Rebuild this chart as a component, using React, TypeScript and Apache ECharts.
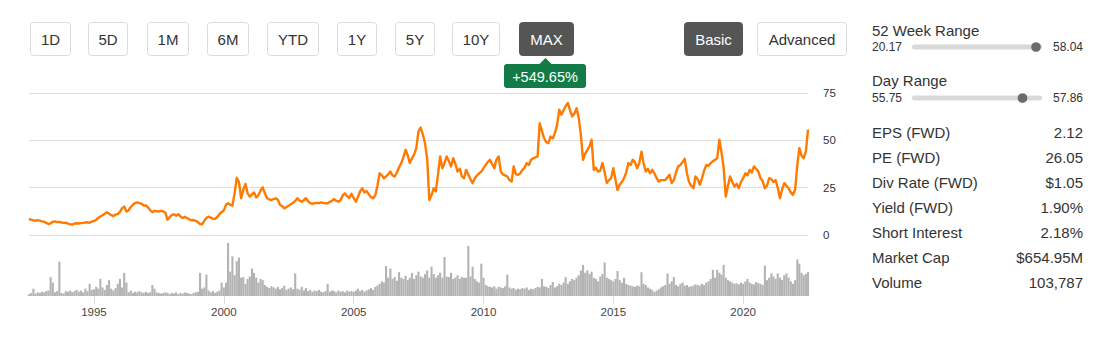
import React, { useEffect, useRef } from "react";
import * as echarts from "echarts";

// ---------- data ----------
const START_YEAR = 1992;
const START_MONTH = 7; // first monthly observation: July 1992

const prices1992to1999 = [
  8.6, 8.0, 7.8, 7.5, 7.9, 7.6,
  7.2, 7.0, 6.4, 5.8, 6.2, 7.0, 7.2, 6.8, 6.9, 6.6, 6.4, 6.5,
  6.0, 5.7, 5.5, 6.0, 6.2, 6.1, 6.3, 6.4, 6.6, 6.7, 6.5, 7.0,
  7.4, 8.0, 9.0, 9.8, 10.4, 11.2, 12.0, 11.2, 10.5, 10.0, 10.8, 11.0,
  12.2, 14.2, 15.0, 12.4, 13.0, 14.8, 16.0, 16.9, 17.2, 16.8, 16.5, 15.6,
  15.6, 14.5, 13.2, 12.0, 12.8, 12.6, 12.4, 12.8, 12.5, 11.8, 8.0, 9.5,
  10.6, 10.9, 10.2, 11.0, 9.8, 9.0, 9.6, 9.0, 8.3, 7.8, 7.9, 7.5,
  6.8, 5.8, 5.6, 7.5, 9.0, 9.7, 9.2, 8.6, 8.5, 9.5, 11.0, 12.2,
];
const prices2000to2009 = [
  13.0, 16.0, 16.8, 15.9, 15.5, 22.0, 30.2, 28.0, 19.4, 24.0, 27.0, 22.0,
  20.3, 21.5, 22.5, 19.8, 21.0, 23.5, 25.2, 22.0, 19.4, 18.8, 18.5, 19.0,
  19.4, 18.5, 16.0, 15.2, 14.1, 14.8, 15.5, 16.2, 17.0, 18.0, 19.4, 18.2,
  17.6, 18.5, 19.4, 17.8, 16.8, 16.5, 16.8, 17.0, 16.8, 17.2, 16.9, 16.8,
  16.8, 17.5, 18.0, 19.0, 18.0, 17.6, 18.5, 21.0, 22.0, 20.5, 19.5, 21.8,
  19.5, 17.6, 20.0, 23.0, 24.7, 22.5, 23.2, 21.5, 20.0, 19.4, 21.0, 26.0,
  32.6, 31.5, 30.0, 30.9, 32.0, 33.5, 31.5, 30.9, 33.0, 35.8, 38.0, 41.0,
  45.0, 42.0, 38.0, 40.5, 42.4, 46.0, 54.7, 56.8, 53.0, 48.5, 40.0, 18.5,
  21.0, 24.7, 23.0, 32.0, 41.5, 35.3, 38.0, 41.5, 39.0, 36.2, 40.6, 37.5,
  33.5, 35.0, 31.0, 30.0, 34.4, 32.0, 29.5, 27.4, 30.0, 31.5, 32.6, 33.5,
];
const prices2010to2016 = [
  35.3, 37.0, 38.5, 39.7, 37.5, 35.3, 39.7, 41.5, 33.5, 32.0, 31.5, 30.9,
  29.0, 28.2, 36.2, 32.0, 31.8, 32.5, 34.4, 35.5, 38.0, 37.0, 39.7, 40.5,
  41.0, 41.5, 59.0, 55.0, 51.2, 49.0, 48.5, 52.0, 51.0, 53.8, 58.0, 66.2,
  63.5, 66.0, 68.0, 69.7, 66.0, 62.6, 64.0, 67.0, 62.0, 53.0, 39.7, 43.0,
  45.0, 47.0, 50.3, 34.4, 35.5, 33.5, 34.0, 38.0, 33.0, 27.4, 29.0, 30.0,
  35.3, 29.0, 23.8, 26.5, 28.0, 30.0, 33.0, 38.0, 37.0, 39.7, 38.5, 35.3,
  38.0, 44.0, 38.0, 33.5, 35.0, 32.6, 34.4, 32.6, 30.0, 28.2, 29.0, 29.0,
];
const prices2017to2022 = [
  29.0, 30.5, 31.8, 27.4, 29.0, 33.0, 36.2, 37.0, 38.5, 40.2, 32.6, 28.0,
  26.0, 24.7, 30.9, 29.5, 26.5, 30.0, 34.0, 37.0, 36.5, 38.0, 39.0, 39.7,
  40.5, 50.3, 44.0, 36.0, 20.3, 26.0, 30.9, 28.0, 25.6, 27.0, 24.7, 28.0,
  30.0, 32.6, 31.5, 34.4, 33.0, 36.2, 35.0, 33.5, 30.0, 28.5, 24.7, 26.0,
  30.0, 29.5, 28.0, 29.0, 25.0, 19.4, 24.0, 27.4, 26.0, 24.7, 22.5, 21.2,
  24.0, 37.0, 45.9, 42.0, 40.6, 44.0, 55.6,
];

const volumes1992to1999 = [
  3, 5, 12, 4, 6, 5,
  7, 6, 8, 9, 31, 22, 6, 8, 56, 5, 4, 8,
  7, 9, 6, 8, 10, 7, 9, 6, 12, 8, 20, 10,
  11, 15, 12, 28, 14, 10, 18, 26, 12, 9, 13, 20,
  28, 14, 38, 22, 6, 9, 5, 7, 6, 8, 6, 5,
  7, 5, 6, 18, 12, 6, 5, 4, 5, 6, 5, 3,
  5, 4, 6, 3, 5, 4, 6, 5, 4, 3, 5, 6,
  7, 38, 12, 14, 35, 9, 6, 8, 5, 7, 9, 22,
];
const volumes2000to2009 = [
  14, 22, 87, 40, 65, 34, 57, 63, 30, 31, 20, 28,
  32, 45, 38, 30, 22, 28, 26, 18, 15, 13, 16, 14,
  12, 15, 11, 13, 17, 10, 12, 14, 11, 37, 12, 10,
  15, 9, 13, 8, 10, 7, 9, 8, 10, 7, 6, 8,
  20, 7, 9, 8, 6, 9, 7, 8, 6, 9, 7, 8,
  7, 9, 12, 8, 10, 7, 9, 11, 13, 10, 15, 17,
  20, 24, 22, 49, 30, 45, 28, 31, 25, 39, 30, 28,
  33, 26, 30, 38, 28, 34, 40, 32, 30, 36, 42, 30,
  48, 36, 30, 34, 38, 30, 64, 32, 31, 38, 28, 30,
  34, 28, 31, 30, 30, 82, 32, 48, 28, 24, 22, 53,
];
const volumes2010to2016 = [
  30, 18, 16, 15, 14, 16, 12, 15, 14, 13, 16, 35,
  14, 12, 13, 10, 12, 11, 13, 12, 14, 10, 12, 11,
  13, 15, 14, 28, 16, 15, 13, 18, 23, 14, 16, 20,
  18, 22, 31, 20, 24, 28, 26, 30, 34, 42, 51, 38,
  42, 36, 40, 30, 28, 24, 32, 36, 55, 30, 28, 26,
  24, 28, 41, 26, 22, 30, 20, 18, 17, 16, 15, 17,
  16, 39, 20, 18, 14, 12, 10, 7, 9, 11, 14, 16,
];
const volumes2017to2022 = [
  18, 37, 20, 24, 31, 18, 16, 20, 22, 17, 18, 15,
  16, 17, 19, 18, 17, 20, 18, 22, 24, 28, 43, 30,
  43, 38, 35, 51, 30, 26, 24, 22, 20, 21, 19, 22,
  20, 24, 28, 22, 20, 19, 23, 21, 20, 18, 50, 26,
  30, 37, 32, 28, 37, 30, 26, 34, 37, 30, 24, 20,
  26, 60, 53, 38, 34, 36, 39,
];

const yearTicks = [1995, 2000, 2005, 2010, 2015, 2020];
const priceTicks = [0, 25, 50, 75];

const rangeButtons = ["1D", "5D", "1M", "6M", "YTD", "1Y", "5Y", "10Y", "MAX"];
const activeRange = "MAX";
const viewButtons = ["Basic", "Advanced"];
const activeView = "Basic";
const changeLabel = "+549.65%";

const week52Low = "20.17";
const week52High = "58.04";
const dayLow = "55.75";
const dayHigh = "57.86";

const statLabels = ["EPS (FWD)", "PE (FWD)", "Div Rate (FWD)", "Yield (FWD)", "Short Interest", "Market Cap", "Volume"];
const statValues = ["2.12", "26.05", "$1.05", "1.90%", "2.18%", "$654.95M", "103,787"];

// ---------- layout (not data) ----------
const rangeBtnX: [number, number][] = [
  [30, 70], [88, 127], [147, 188], [207, 248], [267, 318],
  [337, 376], [395, 434], [452, 499], [519, 573],
];
const viewBtnX: [number, number][] = [[684, 742], [757, 846]];
const FONT = '"Liberation Sans", Arial, Helvetica, sans-serif';

export default function App() {
  const ref = useRef<HTMLDivElement>(null);

  useEffect(() => {
    if (!ref.current) return;
    const chart = echarts.init(ref.current, undefined, { renderer: "svg" });

    const prices = [...prices1992to1999, ...prices2000to2009, ...prices2010to2016, ...prices2017to2022];
    const volumes = [...volumes1992to1999, ...volumes2000to2009, ...volumes2010to2016, ...volumes2017to2022];
    const dates = prices.map((_, i) => Date.UTC(START_YEAR, START_MONTH - 1 + i, 1));
    const priceData = prices.map((v, i) => [dates[i], v]);
    const volData = volumes.map((v, i) => [dates[i], v]);
    const xMin = dates[0];
    const xMax = dates[dates.length - 1];
    const yearTs = yearTicks.map((y) => Date.UTC(y, 0, 1));

    const graphic: any[] = [];
    const pushButton = (label: string, x0: number, x1: number, active: boolean) => {
      graphic.push({
        type: "rect",
        shape: { x: x0 + 0.5, y: 22.5, width: x1 - x0, height: 33, r: 3 },
        style: { fill: active ? "#555555" : "#ffffff", stroke: active ? "#555555" : "#dcdcdc", lineWidth: 1 },
      });
      graphic.push({
        type: "text",
        x: (x0 + x1) / 2 + 0.5,
        y: 39.5,
        style: {
          text: label,
          fill: active ? "#ffffff" : "#333333",
          fontSize: 15,
          fontFamily: FONT,
          align: "center",
          verticalAlign: "middle",
        },
      });
    };
    rangeButtons.forEach((b, i) => pushButton(b, rangeBtnX[i][0], rangeBtnX[i][1], b === activeRange));
    viewButtons.forEach((b, i) => pushButton(b, viewBtnX[i][0], viewBtnX[i][1], b === activeView));

    // change badge
    graphic.push({
      type: "polygon",
      shape: { points: [[539, 64.5], [545.5, 58], [552, 64.5]] },
      style: { fill: "#137b46" },
    });
    graphic.push({
      type: "rect",
      shape: { x: 504, y: 64, width: 82, height: 24, r: 3 },
      style: { fill: "#137b46" },
    });
    graphic.push({
      type: "text",
      x: 545,
      y: 76.5,
      style: { text: changeLabel, fill: "#ffffff", fontSize: 14.5, fontFamily: FONT, align: "center", verticalAlign: "middle" },
    });

    // right panel ranges
    const rangeBlock = (title: string, low: string, high: string, yTitle: number, yVal: number, dotX: number) => {
      graphic.push({
        type: "text", x: 872, y: yTitle,
        style: { text: title, fill: "#333333", fontSize: 15, fontFamily: FONT, align: "left", verticalAlign: "middle" },
      });
      graphic.push({
        type: "text", x: 872, y: yVal,
        style: { text: low, fill: "#333333", fontSize: 12, fontFamily: FONT, align: "left", verticalAlign: "middle" },
      });
      graphic.push({
        type: "text", x: 1083, y: yVal,
        style: { text: high, fill: "#333333", fontSize: 12, fontFamily: FONT, align: "right", verticalAlign: "middle" },
      });
      graphic.push({
        type: "rect", shape: { x: 912, y: yVal - 2.5, width: 130, height: 5, r: 2.5 },
        style: { fill: "#d9d9d9" },
      });
      graphic.push({
        type: "circle", shape: { cx: dotX, cy: yVal, r: 4.8 },
        style: { fill: "#6b6b6b" },
      });
    };
    rangeBlock("52 Week Range", week52Low, week52High, 30, 47, 1036);
    rangeBlock("Day Range", dayLow, dayHigh, 80.5, 98, 1022.5);

    statLabels.forEach((lab, i) => {
      const y = 132.5 + i * 25;
      graphic.push({
        type: "text", x: 872, y,
        style: { text: lab, fill: "#333333", fontSize: 15, fontFamily: FONT, align: "left", verticalAlign: "middle" },
      });
      graphic.push({
        type: "text", x: 1083, y,
        style: { text: statValues[i], fill: "#333333", fontSize: 15, fontFamily: FONT, align: "right", verticalAlign: "middle" },
      });
    });

    chart.setOption({
      animation: false,
      textStyle: { fontFamily: FONT },
      grid: [
        { left: 29, right: 302, top: 93, height: 142 },
        { left: 29, right: 302, top: 235, height: 61 },
      ],
      xAxis: [
        {
          type: "value", gridIndex: 0, min: xMin, max: xMax,
          axisLine: { show: false }, axisTick: { show: false }, axisLabel: { show: false }, splitLine: { show: false },
        },
        {
          type: "value", gridIndex: 1, min: xMin, max: xMax,
          axisLine: { show: false },
          axisTick: { show: true, length: 8, customValues: yearTs, lineStyle: { color: "#dddddd", width: 1 } },
          axisLabel: {
            customValues: yearTs,
            formatter: (v: number) => String(new Date(v).getUTCFullYear()),
            color: "#444444", fontSize: 11.5, margin: 10, fontFamily: FONT,
          },
          splitLine: { show: false },
        },
      ],
      yAxis: [
        {
          type: "value", gridIndex: 0, position: "right",
          min: priceTicks[0], max: priceTicks[priceTicks.length - 1], interval: 25,
          axisLine: { show: false }, axisTick: { show: false },
          axisLabel: { color: "#333333", fontSize: 11.5, margin: 15, fontFamily: FONT },
          splitLine: { show: true, lineStyle: { color: "#dddddd", width: 1.2 } },
        },
        { type: "value", gridIndex: 1, min: 0, max: 100, show: false, splitLine: { show: false } },
      ],
      series: [
        {
          type: "line", xAxisIndex: 0, yAxisIndex: 0, data: priceData,
          showSymbol: false, symbol: "none",
          lineStyle: { color: "#ff7a00", width: 2.4, join: "round" },
          itemStyle: { color: "#ff7a00" },
          z: 3,
        },
        {
          type: "bar", xAxisIndex: 1, yAxisIndex: 1, data: volData,
          barWidth: 2.1,
          itemStyle: { color: "#b3b3b3" },
        },
      ],
      graphic,
    });

    return () => chart.dispose();
  }, []);

  return (
    <div
      ref={ref}
      style={{ position: "absolute", left: 0, top: 0, width: 1110, height: 355, background: "#ffffff" }}
    />
  );
}
